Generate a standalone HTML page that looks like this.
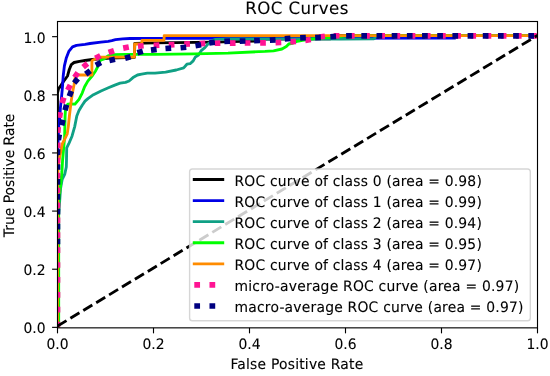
<!DOCTYPE html>
<html><head><meta charset="utf-8"><title>ROC Curves</title><style>html,body{margin:0;padding:0;background:#fff;overflow:hidden}svg{display:block;filter:blur(0.3px)}text{text-rendering:geometricPrecision}</style></head><body>
<svg width="550" height="376" viewBox="0 0 550 376">
<rect width="550" height="376" fill="#fff"/>
<defs><clipPath id="ax"><rect x="57.50" y="21.50" width="480.00" height="306.35"/></clipPath></defs>
<g clip-path="url(#ax)" fill="none" stroke-linejoin="round">
<polyline points="57.50,327.40 57.50,93.00 58.50,88.80 60.80,85.60 64.30,80.30 67.50,76.00 69.30,69.50 71.30,64.60 74.10,62.50 79.50,61.30 85.00,60.50 92.40,59.50 100.00,58.90 110.00,58.00 134.40,57.40 134.80,43.40 155.00,42.90 195.00,42.40 215.00,42.20 242.00,41.40 262.00,41.00 263.50,39.00 330.00,38.90 340.00,35.55 537.50,35.55" stroke="black" stroke-width="2.84" stroke-linecap="square"/>
<polyline points="57.50,327.40 57.50,190.00 57.80,150.00 58.30,135.00 58.90,124.00 59.90,116.00 60.40,107.90 61.50,97.30 62.50,86.60 63.20,76.00 64.40,65.80 66.20,58.30 68.80,51.40 72.50,46.80 76.50,45.30 85.00,44.30 90.00,43.50 100.90,42.10 108.20,41.30 111.80,40.60 115.50,39.60 122.70,38.80 130.00,38.50 155.00,38.30 455.00,38.10 455.20,35.55 537.50,35.55" stroke="#0000e6" stroke-width="2.84" stroke-linecap="square"/>
<polyline points="57.50,327.40 57.50,225.00 58.50,215.00 59.40,205.00 60.50,188.80 62.20,179.30 64.80,174.00 66.30,167.00 66.50,160.00 66.70,147.90 68.80,143.70 72.00,136.20 74.70,126.60 76.80,116.00 79.00,110.50 82.20,105.20 85.00,101.10 88.20,98.40 93.50,94.70 101.00,91.00 108.40,87.80 114.80,85.10 120.10,83.20 125.50,82.40 129.10,81.00 133.00,77.60 137.50,75.00 141.60,74.10 147.30,73.20 155.00,73.20 165.60,72.20 176.30,70.00 183.70,67.90 186.90,64.20 190.10,63.70 193.20,60.90 195.30,57.10 198.50,55.00 201.20,50.70 204.90,47.60 208.10,43.80 212.30,40.60 215.50,39.40 230.00,39.00 300.00,38.90 340.00,39.00 374.00,38.80 377.00,35.55 537.50,35.55" stroke="#10a085" stroke-width="2.84" stroke-linecap="square"/>
<polyline points="58.70,327.40 58.70,205.00 59.50,195.00 60.90,182.60 61.90,172.00 62.60,160.00 63.50,150.00 64.60,137.30 65.10,116.00 65.60,107.90 67.80,104.20 71.00,103.90 75.00,104.20 79.00,99.40 82.20,93.10 84.60,86.70 87.80,81.10 92.50,75.50 95.70,70.70 98.10,66.00 99.70,62.00 100.40,60.20 104.20,58.80 108.00,55.80 112.40,54.70 126.00,54.30 155.00,54.30 195.00,53.80 228.00,53.10 265.00,51.40 273.50,50.80 282.00,49.00 286.30,46.60 288.80,44.00 293.10,43.00 297.30,41.30 302.40,40.30 312.80,38.80 325.50,37.90 338.00,36.80 348.00,35.55 537.50,35.55" stroke="#00ff00" stroke-width="2.84" stroke-linecap="square"/>
<polyline points="57.50,327.40 57.50,175.00 59.00,160.00 60.50,153.00 61.40,147.90 62.40,143.70 64.60,139.40 67.20,134.00 68.30,126.60 69.40,116.00 71.00,102.60 72.60,92.00 74.10,84.50 74.70,80.00 75.50,76.00 76.50,75.00 91.90,75.00 91.90,61.00 93.00,60.00 100.00,57.20 134.40,57.20 134.60,44.00 141.80,44.00 142.00,40.30 164.00,40.30 164.20,35.55 537.50,35.55" stroke="darkorange" stroke-width="2.84" stroke-linecap="square"/>
<path d="M57.50 327.45L57.50 321.75M57.50 312.55L57.50 306.85M57.50 297.65L57.50 291.95M57.50 282.75L57.50 277.05M57.50 267.85L57.50 262.15M57.50 252.95L57.50 247.25M57.50 238.05L57.50 232.35M57.50 223.15L57.50 217.45M57.50 208.25L57.50 202.55M57.50 193.35L57.50 187.65M57.50 178.45L57.50 172.75M57.48 163.55L57.52 157.85M57.65 148.15L57.75 142.45M57.79 132.84L58.21 127.16M59.43 117.81L60.37 112.19M62.10 103.10L63.90 97.70M67.69 90.13L70.31 85.07M74.52 77.30L77.88 72.70M83.11 67.12L87.49 63.48M95.38 58.33L100.42 55.67M108.60 52.50L114.00 50.70M123.20 48.13L128.80 47.07M137.96 46.22L143.64 45.78M153.65 45.32L159.35 45.08M168.75 44.81L174.45 44.59M184.25 44.11L189.95 43.89M199.55 43.57L205.25 43.43M214.65 43.24L220.35 43.16M229.85 43.12L235.55 43.08M244.75 43.02L250.45 42.98M260.15 42.95L265.85 42.85M275.55 42.62L281.25 42.38M290.26 41.84L295.94 41.36M305.19 40.48L310.81 39.52M319.28 37.01L324.92 36.19M333.75 35.88L339.45 35.72M348.93 35.80L354.63 35.80M364.11 35.80L369.81 35.80M379.29 35.80L384.99 35.80M394.47 35.80L400.17 35.80M409.65 35.80L415.35 35.80M424.83 35.80L430.53 35.80M440.01 35.80L445.71 35.80M455.19 35.80L460.89 35.80M470.37 35.80L476.07 35.80M485.55 35.80L491.25 35.80M500.73 35.80L506.43 35.80M515.91 35.80L521.61 35.80M531.09 35.80L536.79 35.80" stroke="deeppink" stroke-width="5.66" stroke-linecap="butt" fill="none"/>
<path d="M57.50 244.35L57.50 238.65M57.50 229.45L57.50 223.75M57.50 214.55L57.50 208.85M57.50 199.65L57.50 193.95M57.50 184.75L57.50 179.05M57.50 169.85L57.50 164.15M57.38 154.95L57.62 149.25M58.34 140.11L59.26 134.49M61.65 125.27L62.95 119.73M65.04 110.15L66.56 104.65M69.28 96.26L71.32 90.94M74.17 82.99L77.83 78.61M85.72 74.12L90.28 70.68M95.87 65.22L100.93 62.58M109.42 60.41L114.98 59.19M125.06 58.27L130.54 56.73M137.37 52.81L142.83 51.19M150.97 50.17L156.63 49.43M165.46 48.52L171.14 48.08M180.57 47.79L186.23 47.21M195.49 45.68L201.11 44.72M209.18 42.98L214.82 42.22M224.35 41.44L230.05 41.16M239.75 41.17L245.45 41.03M254.15 40.70L259.85 40.50M269.86 40.19L275.54 39.81M284.76 38.81L290.44 38.39M300.15 37.90L305.85 37.70M315.15 37.61L320.85 37.39M330.35 36.76L336.05 36.44M346.15 35.87L351.85 35.73M361.33 35.80L367.03 35.80M376.51 35.80L382.21 35.80M391.69 35.80L397.39 35.80M406.87 35.80L412.57 35.80M422.05 35.80L427.75 35.80M437.23 35.80L442.93 35.80M452.41 35.80L458.11 35.80M467.59 35.80L473.29 35.80M482.77 35.80L488.47 35.80M497.95 35.80L503.65 35.80M513.13 35.80L518.83 35.80M528.31 35.80L534.01 35.80" stroke="navy" stroke-width="5.66" stroke-linecap="butt" fill="none"/>
<path d="M57.50 326.10L537.50 35.40" stroke="#000" stroke-width="2.84" stroke-dasharray="10.53 4.55"/>
</g>
<g stroke="#000" stroke-width="1.13" fill="none" stroke-linecap="square" stroke-linejoin="miter">
<rect x="57.50" y="21.50" width="480.00" height="306.35"/>
<path d="M57.50 327.85V333.35" stroke-linecap="butt"/>
<path d="M57.50 327.36H52.10" stroke-linecap="butt"/>
<path d="M153.50 327.85V333.35" stroke-linecap="butt"/>
<path d="M57.50 269.22H52.10" stroke-linecap="butt"/>
<path d="M249.50 327.85V333.35" stroke-linecap="butt"/>
<path d="M57.50 211.08H52.10" stroke-linecap="butt"/>
<path d="M345.50 327.85V333.35" stroke-linecap="butt"/>
<path d="M57.50 152.94H52.10" stroke-linecap="butt"/>
<path d="M441.50 327.85V333.35" stroke-linecap="butt"/>
<path d="M57.50 94.80H52.10" stroke-linecap="butt"/>
<path d="M537.50 327.85V333.35" stroke-linecap="butt"/>
<path d="M57.50 36.66H52.10" stroke-linecap="butt"/>
</g>
<text transform="translate(57.50 349.30) scale(1 1.040)" text-anchor="middle" stroke="#000" stroke-width="0.10" style="font-family:'DejaVu Sans', 'Liberation Sans', sans-serif;font-size:13.89px" >0.0</text>
<text transform="translate(45.50 333.36) scale(1 1.040)" text-anchor="end" stroke="#000" stroke-width="0.10" style="font-family:'DejaVu Sans', 'Liberation Sans', sans-serif;font-size:13.89px" >0.0</text>
<text transform="translate(153.50 349.30) scale(1 1.040)" text-anchor="middle" stroke="#000" stroke-width="0.10" style="font-family:'DejaVu Sans', 'Liberation Sans', sans-serif;font-size:13.89px" >0.2</text>
<text transform="translate(45.50 275.22) scale(1 1.040)" text-anchor="end" stroke="#000" stroke-width="0.10" style="font-family:'DejaVu Sans', 'Liberation Sans', sans-serif;font-size:13.89px" >0.2</text>
<text transform="translate(249.50 349.30) scale(1 1.040)" text-anchor="middle" stroke="#000" stroke-width="0.10" style="font-family:'DejaVu Sans', 'Liberation Sans', sans-serif;font-size:13.89px" >0.4</text>
<text transform="translate(45.50 217.08) scale(1 1.040)" text-anchor="end" stroke="#000" stroke-width="0.10" style="font-family:'DejaVu Sans', 'Liberation Sans', sans-serif;font-size:13.89px" >0.4</text>
<text transform="translate(345.50 349.30) scale(1 1.040)" text-anchor="middle" stroke="#000" stroke-width="0.10" style="font-family:'DejaVu Sans', 'Liberation Sans', sans-serif;font-size:13.89px" >0.6</text>
<text transform="translate(45.50 158.94) scale(1 1.040)" text-anchor="end" stroke="#000" stroke-width="0.10" style="font-family:'DejaVu Sans', 'Liberation Sans', sans-serif;font-size:13.89px" >0.6</text>
<text transform="translate(441.50 349.30) scale(1 1.040)" text-anchor="middle" stroke="#000" stroke-width="0.10" style="font-family:'DejaVu Sans', 'Liberation Sans', sans-serif;font-size:13.89px" >0.8</text>
<text transform="translate(45.50 100.80) scale(1 1.040)" text-anchor="end" stroke="#000" stroke-width="0.10" style="font-family:'DejaVu Sans', 'Liberation Sans', sans-serif;font-size:13.89px" >0.8</text>
<text transform="translate(537.50 349.30) scale(1 1.040)" text-anchor="middle" stroke="#000" stroke-width="0.10" style="font-family:'DejaVu Sans', 'Liberation Sans', sans-serif;font-size:13.89px" >1.0</text>
<text transform="translate(45.50 42.66) scale(1 1.040)" text-anchor="end" stroke="#000" stroke-width="0.10" style="font-family:'DejaVu Sans', 'Liberation Sans', sans-serif;font-size:13.89px" >1.0</text>
<text transform="translate(296.80 369.10) scale(1 1.040)" text-anchor="middle" stroke="#000" stroke-width="0.10" style="font-family:'DejaVu Sans', 'Liberation Sans', sans-serif;font-size:13.89px" textLength="132.8" lengthAdjust="spacing">False Positive Rate</text>
<text transform="translate(13.80 175.40) rotate(-90) scale(1 1.040)" text-anchor="middle" stroke="#000" stroke-width="0.10" style="font-family:'DejaVu Sans', 'Liberation Sans', sans-serif;font-size:13.89px" >True Positive Rate</text>
<text transform="translate(296.80 13.90) scale(1 1.020)" text-anchor="middle" stroke="#000" stroke-width="0.10" style="font-family:'DejaVu Sans', 'Liberation Sans', sans-serif;font-size:16.67px" textLength="103.2" lengthAdjust="spacing">ROC Curves</text>
<rect x="189.60" y="169.00" width="340.70" height="151.70" rx="2.8" fill="#fff" fill-opacity="0.8" stroke="#ccc" stroke-opacity="0.8" stroke-width="1.4"/>
<path d="M194.22 179.50H222.78" stroke="black" stroke-width="2.84" stroke-linecap="square"/>
<text transform="translate(234.50 186.25) scale(1 1.040)" stroke="#000" stroke-width="0.10" style="font-family:'DejaVu Sans', 'Liberation Sans', sans-serif;font-size:13.89px" textLength="247.30" lengthAdjust="spacing">ROC curve of class 0 (area = 0.98)</text>
<path d="M194.22 200.58H222.78" stroke="#0000e6" stroke-width="2.84" stroke-linecap="square"/>
<text transform="translate(234.50 207.29) scale(1 1.040)" stroke="#000" stroke-width="0.10" style="font-family:'DejaVu Sans', 'Liberation Sans', sans-serif;font-size:13.89px" textLength="247.30" lengthAdjust="spacing">ROC curve of class 1 (area = 0.99)</text>
<path d="M194.22 221.66H222.78" stroke="#10a085" stroke-width="2.84" stroke-linecap="square"/>
<text transform="translate(234.50 228.33) scale(1 1.040)" stroke="#000" stroke-width="0.10" style="font-family:'DejaVu Sans', 'Liberation Sans', sans-serif;font-size:13.89px" textLength="247.30" lengthAdjust="spacing">ROC curve of class 2 (area = 0.94)</text>
<path d="M194.22 242.74H222.78" stroke="#00ff00" stroke-width="2.84" stroke-linecap="square"/>
<text transform="translate(234.50 249.37) scale(1 1.040)" stroke="#000" stroke-width="0.10" style="font-family:'DejaVu Sans', 'Liberation Sans', sans-serif;font-size:13.89px" textLength="247.30" lengthAdjust="spacing">ROC curve of class 3 (area = 0.95)</text>
<path d="M194.22 263.82H222.78" stroke="darkorange" stroke-width="2.84" stroke-linecap="square"/>
<text transform="translate(234.50 270.41) scale(1 1.040)" stroke="#000" stroke-width="0.10" style="font-family:'DejaVu Sans', 'Liberation Sans', sans-serif;font-size:13.89px" textLength="247.30" lengthAdjust="spacing">ROC curve of class 4 (area = 0.97)</text>
<path d="M194.30 284.90H222.78" stroke="deeppink" stroke-width="5.66" stroke-dasharray="5.74 9.44"/>
<text transform="translate(234.50 291.45) scale(1 1.040)" stroke="#000" stroke-width="0.10" style="font-family:'DejaVu Sans', 'Liberation Sans', sans-serif;font-size:13.89px" textLength="284.60" lengthAdjust="spacing">micro-average ROC curve (area = 0.97)</text>
<path d="M194.30 305.98H222.78" stroke="navy" stroke-width="5.66" stroke-dasharray="5.74 9.44"/>
<text transform="translate(234.50 312.49) scale(1 1.040)" stroke="#000" stroke-width="0.10" style="font-family:'DejaVu Sans', 'Liberation Sans', sans-serif;font-size:13.89px" textLength="289.00" lengthAdjust="spacing">macro-average ROC curve (area = 0.97)</text>
</svg>
</body></html>
